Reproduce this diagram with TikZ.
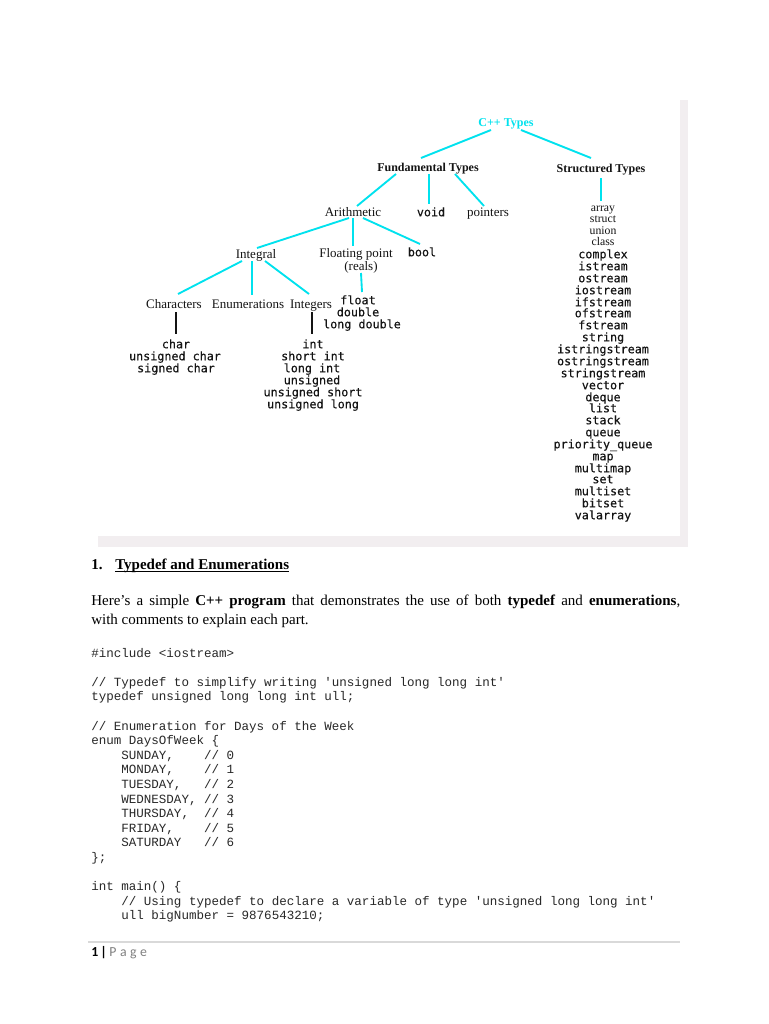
\documentclass[tikz,border=0pt]{standalone}
\usepackage{fontspec}
\setmainfont{Liberation Serif}
\newfontfamily\dmono[FakeBold=0.25]{DejaVu Sans Mono}
\newfontfamily\codefnt{Liberation Mono}
\newfontfamily\calib{Carlito}
\usetikzlibrary{calc}
\definecolor{cyanc}{RGB}{0,226,238}
\definecolor{ink}{RGB}{20,20,20}
\definecolor{band}{RGB}{242,238,240}
\definecolor{codeink}{RGB}{40,40,40}
\definecolor{fline}{RGB}{217,217,217}
\definecolor{pgrey}{RGB}{128,128,128}
\newcommand{\sq}{\char39\relax}
\frenchspacing
\begin{document}
\begin{tikzpicture}[x=0.75pt,y=-0.75pt,
  lbl/.style={inner sep=0pt,text=ink,font=\fontsize{9.75}{11}\selectfont,text height=6.5pt,text depth=0pt},
  slbl/.style={inner sep=0pt,text=ink,font=\fontsize{8.8}{10}\selectfont,text height=5.8pt,text depth=0pt},
  blbl/.style={inner sep=0pt,text=ink,font=\bfseries\fontsize{9}{11}\selectfont,text height=6pt,text depth=0pt},
  mono/.style={inner sep=0pt,text=ink,font=\dmono\fontsize{8.8}{10}\selectfont,text height=6.4pt,text depth=0pt},
  cyl/.style={draw=cyanc,line width=1.4pt},
  bkl/.style={draw=ink,line width=1.4pt},
  codeln/.style={anchor=base west,inner sep=0pt,text=codeink,font=\codefnt\fontsize{9.4}{11}\selectfont},
  body/.style={anchor=base west,inner sep=0pt,text=black,font=\fontsize{11.25}{14}\selectfont}]
\fill[white] (0,0) rectangle (768,1024);
\useasboundingbox (0,0) rectangle (768,1024);
% picture frame
\fill[band] (98,100) rectangle (688,547);
\fill[white] (98,100) rectangle (680,536);

% tree nodes
\node[blbl,text=cyanc] (cpp) at (506,122) {C++ Types};
\node[blbl] (fund) at (428,167) {Fundamental Types};
\node[blbl] (struc) at (601,168) {Structured Types};
\node[lbl] (arith) at (353,212) {Arithmetic};
\node[mono] (void) at (431,212) {void};
\node[lbl] (ptr) at (488,212) {pointers};
\node[lbl] (integral) at (256,254) {Integral};
\node[lbl] (flt) at (356,253) {Floating point};
\node[lbl] (reals) at (361,266) {(reals)};
\node[mono] (bool) at (422,252) {bool};
\node[lbl] (chars) at (174,304) {Characters};
\node[lbl] (enums) at (248,304) {Enumerations};
\node[lbl] (ints) at (311,304) {Integers};
\node[mono] (float) at (358,300) {float};
\node[mono] (double) at (358,312) {double};
\node[mono] (ldouble) at (362,324) {long double};
\node[mono] (char) at (176,344) {char};
\node[mono] (uchar) at (175,356) {unsigned char};
\node[mono] (schar) at (176,368) {signed char};
\node[mono] (int) at (313,344) {int};
\node[mono] (sint) at (313,356) {short int};
\node[mono] (lint) at (312,368) {long int};
\node[mono] (uns) at (312,380) {unsigned};
\node[mono] (ushort) at (313,392) {unsigned short};
\node[mono] (ulong) at (313,404) {unsigned long};
% structured list
\foreach \t/\y [count=\i] in {array/208,struct/219,union/231,class/242}
  \node[slbl] (s\i) at (603,\y) {\t};
\foreach \t/\y [count=\i from 5] in {complex/254,istream/266,ostream/278,iostream/290,ifstream/302,ofstream/313,fstream/325,string/337,istringstream/349,ostringstream/361,stringstream/373,vector/385,deque/397,list/408,stack/420,queue/432,priority\_queue/444,map/456,multimap/468,set/479,multiset/491,bitset/503,valarray/515}
  \node[mono] (s\i) at (603,\y) {\t};

% connectors
\draw[cyl] ($(cpp)+(-15,8)$) -- ($(fund)+(-7,-9)$);
\draw[cyl] ($(cpp)+(15,8)$) -- ($(struc)+(-10,-10)$);
\draw[cyl] ($(struc)+(0,10)$) -- ($(s1)+(-2,-7)$);
\draw[cyl] ($(fund)+(-32,7)$) -- ($(arith)+(4,-6)$);
\draw[cyl] ($(fund)+(1,7)$) -- ($(void)+(-2,-8)$);
\draw[cyl] ($(fund)+(27,7)$) -- ($(ptr)+(-4,-6)$);
\draw[cyl] ($(arith)+(-4,6)$) -- ($(integral)+(1,-6)$);
\draw[cyl] ($(arith)+(0,6)$) -- ($(flt)+(-3,-7)$);
\draw[cyl] ($(arith)+(10,6)$) -- ($(bool)+(-2,-8)$);
\draw[cyl] ($(integral)+(-14,7)$) -- ($(chars)+(4,-10)$);
\draw[cyl] ($(integral)+(-4,7)$) -- ($(enums)+(4,-9)$);
\draw[cyl] ($(integral)+(9,7)$) -- ($(ints)+(-2,-10)$);
\draw[cyl] ($(reals)+(0,7)$) -- ($(float)+(4,-8)$);
\draw[bkl] ($(chars)+(2,8)$) -- ($(char)+(0,-10)$);
\draw[bkl] ($(ints)+(1,8)$) -- ($(int)+(-1,-10)$);

% heading
\node[body,font=\bfseries\fontsize{11.25}{14}\selectfont] (hnum) at (91,569) {1.};
\node[body,font=\bfseries\fontsize{11.25}{14}\selectfont] (htitle) at (115,569) {Typedef and Enumerations};
\draw[line width=0.7pt] ($(htitle.base west)+(0,2.5)$) -- ($(htitle.base east)+(0,2.5)$);
% paragraph
\node[body] (p1) at (91,605) {\makebox[441.75pt][s]{Here’s a simple \textbf{C++ program} that demonstrates the use of both \textbf{typedef} and \textbf{enumerations},}};
\node[body] (p2) at (91,624) {with comments to explain each part.};

% code
\node[codeln] (c0) at (91,657) {\#include <iostream>};
\node[codeln] (c2) at (91,686.2) {//~Typedef~to~simplify~writing~\sq unsigned~long~long~int\sq};
\node[codeln] (c3) at (91,700.8) {typedef~unsigned~long~long~int~ull;};
\node[codeln] (c5) at (91,730) {//~Enumeration~for~Days~of~the~Week};
\node[codeln] (c6) at (91,744.6) {enum~DaysOfWeek~\{};
\node[codeln] (c7) at (91,759.2) {~~~~SUNDAY,~~~~//~0};
\node[codeln] (c8) at (91,773.8) {~~~~MONDAY,~~~~//~1};
\node[codeln] (c9) at (91,788.4) {~~~~TUESDAY,~~~//~2};
\node[codeln] (c10) at (91,803) {~~~~WEDNESDAY,~//~3};
\node[codeln] (c11) at (91,817.6) {~~~~THURSDAY,~~//~4};
\node[codeln] (c12) at (91,832.2) {~~~~FRIDAY,~~~~//~5};
\node[codeln] (c13) at (91,846.8) {~~~~SATURDAY~~~//~6};
\node[codeln] (c14) at (91,861.4) {\};};
\node[codeln] (c16) at (91,890.6) {int~main()~\{};
\node[codeln] (c17) at (91,905.2) {~~~~//~Using~typedef~to~declare~a~variable~of~type~\sq unsigned~long~long~int\sq};
\node[codeln] (c18) at (91,919.8) {~~~~ull~bigNumber~=~9876543210;};

% footer
\coordinate (fa) at (88,942);
\coordinate (fb) at (680,942);
\draw[fline,line width=0.9pt] (fa) -- (fb);
\node[anchor=base west,inner sep=0pt,font=\calib\fontsize{10.35}{12}\selectfont] (pg) at (91,956)
  {\textbf{1}\hspace{1.5pt}\textbf{|}\hspace{2pt}\textcolor{pgrey}{P\hspace{2.6pt}a\hspace{2.6pt}g\hspace{2.6pt}e}};
\end{tikzpicture}
\end{document}
